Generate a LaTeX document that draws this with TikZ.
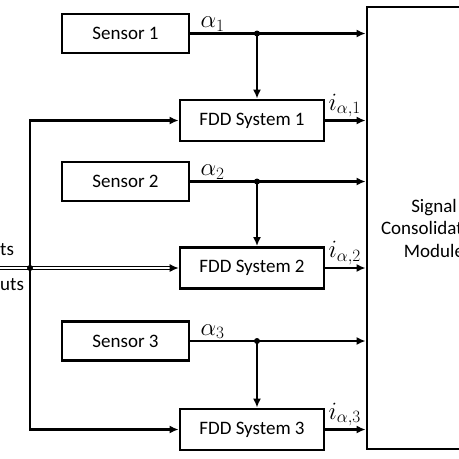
\documentclass[tikz,border=0pt]{standalone}
\usepackage{fontspec}
\setmainfont{Carlito}
\usetikzlibrary{arrows.meta,calc}

\tikzset{
  block/.style={draw, line width=2.8pt, inner sep=0pt, font=\fontsize{19}{22.5}\selectfont},
  sig/.style={line width=2.5pt, -{Latex[length=9pt,width=8pt]}},
  lbl/.style={inner sep=1pt, font=\fontsize{23}{26}\selectfont},
  txt/.style={inner sep=0pt, font=\fontsize{19}{22.5}\selectfont}
}

\begin{document}
\begin{tikzpicture}[x=1pt,y=-1pt]
      \useasboundingbox (0,0) rectangle (459,459);
      \clip (0,0) rectangle (459,459);
      % sensors and fdd systems
      \node[block, minimum width=127pt, minimum height=39pt] (sensor1) at (125.5,33.5) {Sensor 1};
      \node[block, minimum width=127pt, minimum height=39pt] (sensor2) at (125.5,181.5) {Sensor 2};
      \node[block, minimum width=127pt, minimum height=39pt] (sensor3) at (125.5,341) {Sensor 3};
      \node[block, minimum width=144pt, minimum height=41pt] (fdd1) at (252,120.5) {FDD System 1};
      \node[block, minimum width=144pt, minimum height=41pt] (fdd2) at (252,268) {FDD System 2};
      \node[block, minimum width=144pt, minimum height=41pt] (fdd3) at (252,429.5) {FDD System 3};
      \node[block, minimum width=134pt, minimum height=442pt, align=center] (module) at (434,228)
        {Signal\\Consolidation\\Module};
      % sensor signals
      \foreach \i in {1,2,3} {
        \coordinate (j\i) at ([xshift=5pt]fdd\i.north |- sensor\i.east);
        \draw[sig] (sensor\i.east) -- (sensor\i.east -| module.west);
        \draw[sig] (j\i) -- ([xshift=5pt]fdd\i.north);
        \fill (j\i) circle (3pt);
        \node[lbl, anchor=south west] (a\i) at ([xshift=9pt,yshift=1pt]sensor\i.east) {$\alpha_\i$};
        \draw[sig] (fdd\i.east) -- (fdd\i.east -| module.west);
        \node[lbl, anchor=south west] (ia\i) at ([xshift=2pt,yshift=2pt]fdd\i.east) {$i_{\alpha,\i}$};
      }
      % inputs and outputs
      \coordinate (in) at (0,268);
      \coordinate (bus) at (30,268);
      \draw[sig] (bus) |- (fdd1.west);
      \draw[sig] (bus) |- (fdd3.west);
      \draw[line width=1.1pt, double, double distance=2pt, -{Latex[length=9pt,width=8pt]}] (in) -- (fdd2.west);
      \fill (bus) circle (3pt);
      \node[txt, anchor=base west] (upper) at (0,255) {ts};
      \node[txt, anchor=base west] (lower) at (0,290) {uts};
\end{tikzpicture}
\end{document}
